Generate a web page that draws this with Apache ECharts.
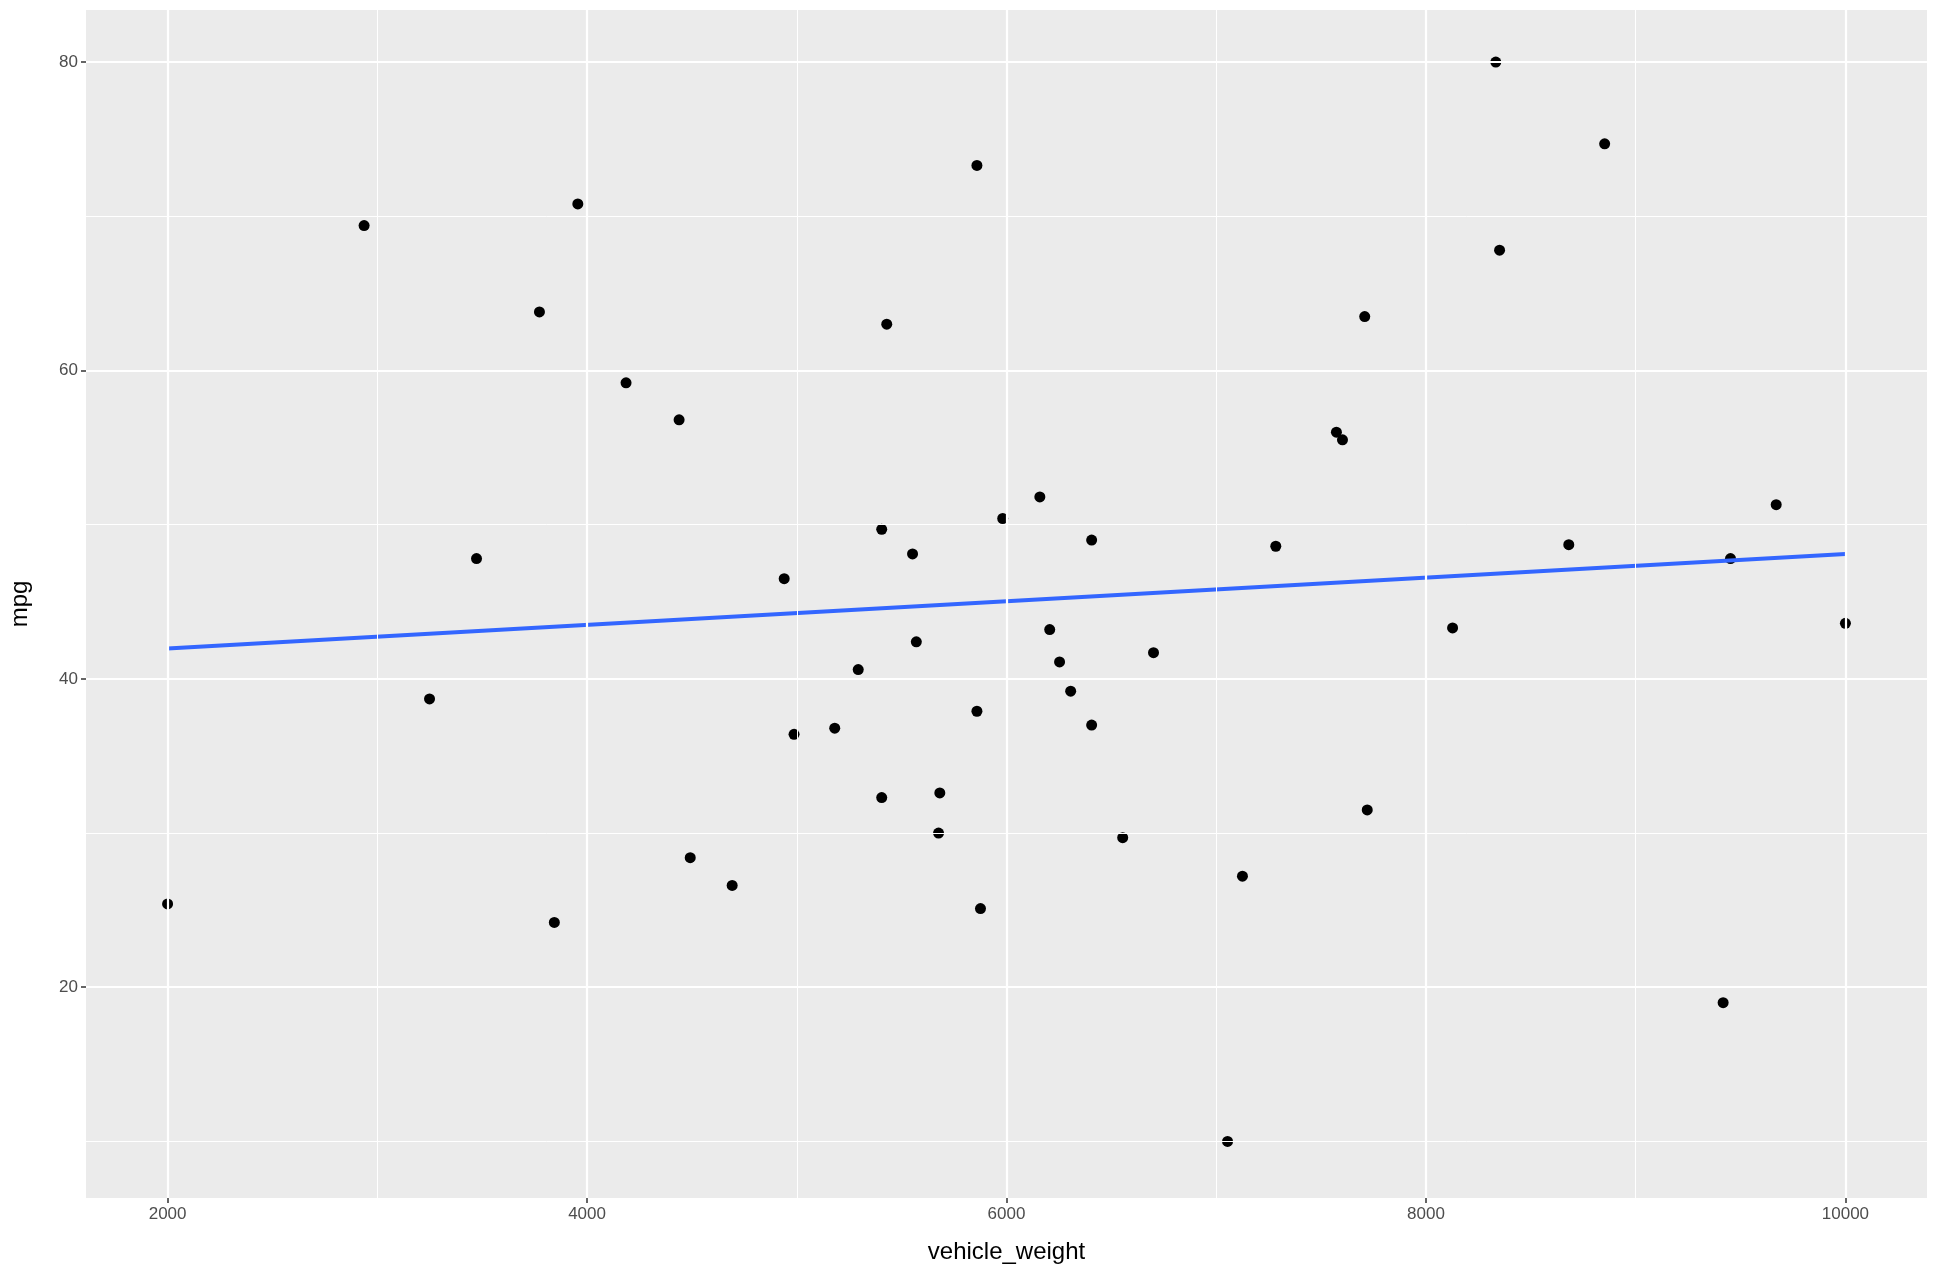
<!DOCTYPE html>
<html>
<head>
<meta charset="utf-8">
<script src="https://cdn.jsdelivr.net/npm/echarts@6/dist/echarts.min.js"></script>
<style>html,body{margin:0;padding:0;background:#fff}#c{width:1942px;height:1270px}</style>
</head>
<body>
<div id="c"></div>
<script>
const weights = [2000,2937,3249,3473,3773,3844,3956,4186,4439,4492,4692,4940,4987,5181,5293,5405,5405,5429,5552,5570,5676,5682,5859,5859,5876,5982,6159,6206,6253,6306,6406,6406,6554,6701,7054,7125,7284,7573,7602,7708,7720,8127,8333,8351,8681,8852,9417,9452,9670,10000];
const mpgs = [25.4,69.4,38.7,47.8,63.8,24.2,70.8,59.2,56.8,28.4,26.6,46.5,36.4,36.8,40.6,32.3,49.7,63.0,48.1,42.4,30.0,32.6,73.3,37.9,25.1,50.4,51.8,43.2,41.1,39.2,49.0,37.0,29.7,41.7,10.0,27.2,48.6,56.0,55.5,63.5,31.5,43.3,80.0,67.8,48.7,74.7,19.0,47.8,51.3,43.6];
const xMajor = [2000,4000,6000,8000,10000];
const xMinor = [3000,5000,7000,9000];
const yMajor = [20,40,60,80];
const yMinor = [10,30,50,70];

// least squares fit line
const n = weights.length;
const mx = weights.reduce((a,b)=>a+b,0)/n;
const my = mpgs.reduce((a,b)=>a+b,0)/n;
let sxy = 0, sxx = 0;
for (let i = 0; i < n; i++) {
  sxy += (weights[i]-mx)*(mpgs[i]-my);
  sxx += (weights[i]-mx)*(weights[i]-mx);
}
const slope = sxy/sxx, icpt = my - slope*mx;
const xs = [Math.min(...weights), Math.max(...weights)];
const fit = xs.map(x => [x, icpt + slope*x]);

const gridLines = [];
xMajor.forEach(v => gridLines.push({xAxis: v, lineStyle: {width: 2.2}}));
xMinor.forEach(v => gridLines.push({xAxis: v, lineStyle: {width: 1}}));
yMajor.forEach(v => gridLines.push({yAxis: v, lineStyle: {width: 2.2}}));
yMinor.forEach(v => gridLines.push({yAxis: v, lineStyle: {width: 1}}));

const chart = echarts.init(document.getElementById('c'));
chart.setOption({
  animation: false,
  grid: {left: 82, right: 15, top: 10, bottom: 72, show: true, backgroundColor: '#EBEBEB', borderWidth: 0},
  xAxis: {
    type: 'value', min: 1611, max: 10389,
    name: 'vehicle_weight', nameLocation: 'middle', nameGap: 42,
    nameTextStyle: {fontFamily: 'Liberation Sans', fontSize: 24, color: '#000'},
    axisLine: {show: false},
    axisTick: {show: true, customValues: xMajor, length: 5, lineStyle: {color: '#333', width: 1.5}},
    axisLabel: {customValues: xMajor, formatter: v => String(v), fontFamily: 'Liberation Sans', fontSize: 17, color: '#4D4D4D', margin: 8},
    splitLine: {show: false}
  },
  yAxis: {
    type: 'value', min: 6.33, max: 83.38,
    name: 'mpg', nameLocation: 'middle', nameGap: 54,
    nameTextStyle: {fontFamily: 'Liberation Sans', fontSize: 24, color: '#000'},
    axisLine: {show: false},
    axisTick: {show: true, customValues: yMajor, length: 5, lineStyle: {color: '#333', width: 1.5}},
    axisLabel: {customValues: yMajor, formatter: v => String(v), fontFamily: 'Liberation Sans', fontSize: 17, color: '#4D4D4D', margin: 8},
    splitLine: {show: false}
  },
  series: [
    {
      type: 'line', data: [], silent: true,
      markLine: {silent: true, symbol: 'none', label: {show: false}, lineStyle: {color: '#fff', type: 'solid'}, data: gridLines}
    },
    {
      type: 'scatter', symbolSize: 11, itemStyle: {color: '#000', opacity: 1},
      data: weights.map((w, i) => [w, mpgs[i]])
    },
    {
      type: 'line', data: fit, symbol: 'none', lineStyle: {color: '#3366FF', width: 4}
    }
  ]
});
</script>
</body>
</html>
